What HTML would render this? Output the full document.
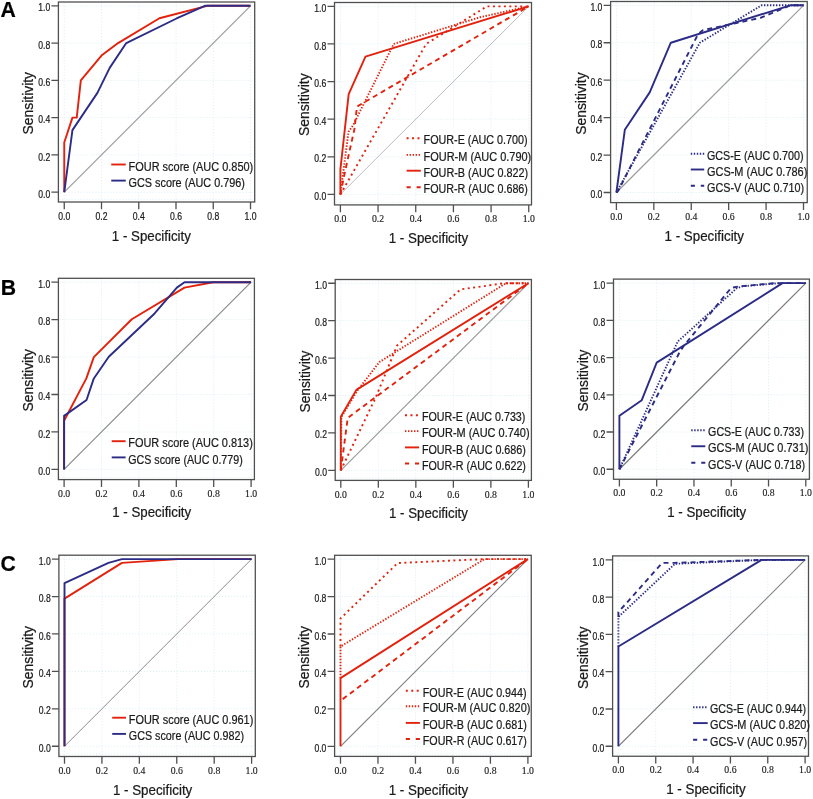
<!DOCTYPE html>
<html><head><meta charset="utf-8"><title>ROC curves</title>
<style>html,body{margin:0;padding:0;background:#fff;}svg{display:block;}text{font-family:"Liberation Sans",sans-serif;fill:#1a1a1a;stroke:#1a1a1a;stroke-width:0.22px;}svg{will-change:transform;}.sf{font-family:"Liberation Serif",serif;stroke-width:0.15px;}</style></head><body>
<svg width="813" height="799" viewBox="0 0 813 799">
<rect x="0" y="0" width="813" height="799" fill="#fff"/>
<g id="pA1">
<path d="M64.25 3V201M59.4 192.2H253.7M101.5 3V201M59.4 154.92H253.7M138.75 3V201M59.4 117.64H253.7M176 3V201M59.4 80.36H253.7M213.25 3V201M59.4 43.08H253.7M250.5 3V201M59.4 5.8H253.7M59.4 199.6H253.7" stroke="#e0f0f4" stroke-width="1" stroke-dasharray="1.2 1.8" fill="none"/>
<path d="M64.25 192.2L250.5 5.8" stroke="#9c9c9c" stroke-width="1.2" fill="none"/>
<path d="M64.25 192.2L64.25 142.43L72.44 117.64L76.73 117.64L80.83 80.36L101.5 55.57L118.08 43.08L159.42 18.29L207.1 5.8L250.5 5.8" stroke="#e2220c" stroke-width="1.9" fill="none" stroke-linejoin="round"/>
<path d="M64.25 192.2L72.44 130.13L97.4 92.85L109.69 67.87L126.27 43.08L176.56 18.48L204.87 5.8L250.5 5.8" stroke="#2c2c86" stroke-width="1.9" fill="none" stroke-linejoin="round"/>
<rect x="58.4" y="2" width="196.3" height="200" stroke="#505050" stroke-width="1.3" fill="none"/>
<path d="M64.25 202V209.3M58.4 192.2H51.4M101.5 202V209.3M58.4 154.92H51.4M138.75 202V209.3M58.4 117.64H51.4M176 202V209.3M58.4 80.36H51.4M213.25 202V209.3M58.4 43.08H51.4M250.5 202V209.3M58.4 5.8H51.4" stroke="#505050" stroke-width="1.3" fill="none"/>
<text x="64.25" y="220.3" font-size="10" text-anchor="middle" textLength="12" lengthAdjust="spacingAndGlyphs">0.0</text>
<text x="50.2" y="197.8" font-size="10.3" text-anchor="end" textLength="12" lengthAdjust="spacingAndGlyphs">0.0</text>
<text x="101.5" y="220.3" font-size="10" text-anchor="middle" textLength="12" lengthAdjust="spacingAndGlyphs">0.2</text>
<text x="50.2" y="160.52" font-size="10.3" text-anchor="end" textLength="12" lengthAdjust="spacingAndGlyphs">0.2</text>
<text x="138.75" y="220.3" font-size="10" text-anchor="middle" textLength="12" lengthAdjust="spacingAndGlyphs">0.4</text>
<text x="50.2" y="123.24" font-size="10.3" text-anchor="end" textLength="12" lengthAdjust="spacingAndGlyphs">0.4</text>
<text x="176" y="220.3" font-size="10" text-anchor="middle" textLength="12" lengthAdjust="spacingAndGlyphs">0.6</text>
<text x="50.2" y="85.96" font-size="10.3" text-anchor="end" textLength="12" lengthAdjust="spacingAndGlyphs">0.6</text>
<text x="213.25" y="220.3" font-size="10" text-anchor="middle" textLength="12" lengthAdjust="spacingAndGlyphs">0.8</text>
<text x="50.2" y="48.68" font-size="10.3" text-anchor="end" textLength="12" lengthAdjust="spacingAndGlyphs">0.8</text>
<text x="250.5" y="220.3" font-size="10" text-anchor="middle" textLength="12" lengthAdjust="spacingAndGlyphs">1.0</text>
<text x="50.2" y="11.4" font-size="10.3" text-anchor="end" textLength="12" lengthAdjust="spacingAndGlyphs">1.0</text>
<text x="151.35" y="241" font-size="13.8" text-anchor="middle" textLength="79.1" lengthAdjust="spacingAndGlyphs">1 - Specificity</text>
<text transform="translate(33.3 103.2) rotate(-90)" x="0" y="0" font-size="13.8" text-anchor="middle" textLength="62.4" lengthAdjust="spacingAndGlyphs">Sensitivity</text>
<path d="M111.25 164.5H125.75" stroke="#e2220c" stroke-width="1.9" fill="none"/>
<text x="128.6" y="170.65" font-size="12" textLength="124.6" lengthAdjust="spacingAndGlyphs">FOUR score (AUC 0.850)</text>
<path d="M111.25 180.6H125.75" stroke="#2c2c86" stroke-width="1.9" fill="none"/>
<text x="128.6" y="186.75" font-size="12" textLength="116.3" lengthAdjust="spacingAndGlyphs">GCS score (AUC 0.796)</text>
</g>
<g id="pA2">
<path d="M340.4 3.5V203.9M335.5 194.4H530.5M378.07 3.5V203.9M335.5 156.79H530.5M415.74 3.5V203.9M335.5 119.18H530.5M453.41 3.5V203.9M335.5 81.57H530.5M491.08 3.5V203.9M335.5 43.96H530.5M528.75 3.5V203.9M335.5 6.35H530.5M335.5 202.5H530.5" stroke="#e0f0f4" stroke-width="1" stroke-dasharray="1.2 1.8" fill="none"/>
<path d="M340.4 194.4L528.75 6.35" stroke="#bcbcc4" stroke-width="1.0" fill="none"/>
<path d="M340.4 194.4L426.1 43.96L486.94 6.35L528.75 6.35" stroke="#e2220c" stroke-width="1.9" fill="none" stroke-linejoin="round" stroke-dasharray="2 3.45"/>
<path d="M340.4 194.4L348.5 131.78L353.02 125.39L393.7 43.96L479.97 17.26L528.75 6.35" stroke="#e2220c" stroke-width="1.9" fill="none" stroke-linejoin="round" stroke-dasharray="1.4 1.6"/>
<path d="M340.4 194.4L340.4 169.39L348.69 94.17L365.45 56.56L528.75 6.35" stroke="#e2220c" stroke-width="1.9" fill="none" stroke-linejoin="round"/>
<path d="M340.4 194.4L344.17 175.59L354.53 128.58L356.97 106.58L528.75 6.35" stroke="#e2220c" stroke-width="1.9" fill="none" stroke-linejoin="round" stroke-dasharray="5 4"/>
<rect x="334.5" y="2.5" width="197" height="202.4" stroke="#505050" stroke-width="1.3" fill="none"/>
<path d="M340.4 204.9V212.2M334.5 194.4H327.5M378.07 204.9V212.2M334.5 156.79H327.5M415.74 204.9V212.2M334.5 119.18H327.5M453.41 204.9V212.2M334.5 81.57H327.5M491.08 204.9V212.2M334.5 43.96H327.5M528.75 204.9V212.2M334.5 6.35H327.5" stroke="#505050" stroke-width="1.3" fill="none"/>
<text class="sf" x="340.4" y="222" font-size="11" text-anchor="middle" textLength="12.2" lengthAdjust="spacingAndGlyphs">0.0</text>
<text x="326.3" y="200" font-size="10.3" text-anchor="end" textLength="12" lengthAdjust="spacingAndGlyphs">0.0</text>
<text class="sf" x="378.07" y="222" font-size="11" text-anchor="middle" textLength="12.2" lengthAdjust="spacingAndGlyphs">0.2</text>
<text x="326.3" y="162.39" font-size="10.3" text-anchor="end" textLength="12" lengthAdjust="spacingAndGlyphs">0.2</text>
<text class="sf" x="415.74" y="222" font-size="11" text-anchor="middle" textLength="12.2" lengthAdjust="spacingAndGlyphs">0.4</text>
<text x="326.3" y="124.78" font-size="10.3" text-anchor="end" textLength="12" lengthAdjust="spacingAndGlyphs">0.4</text>
<text class="sf" x="453.41" y="222" font-size="11" text-anchor="middle" textLength="12.2" lengthAdjust="spacingAndGlyphs">0.6</text>
<text x="326.3" y="87.17" font-size="10.3" text-anchor="end" textLength="12" lengthAdjust="spacingAndGlyphs">0.6</text>
<text class="sf" x="491.08" y="222" font-size="11" text-anchor="middle" textLength="12.2" lengthAdjust="spacingAndGlyphs">0.8</text>
<text x="326.3" y="49.56" font-size="10.3" text-anchor="end" textLength="12" lengthAdjust="spacingAndGlyphs">0.8</text>
<text class="sf" x="528.75" y="222" font-size="11" text-anchor="middle" textLength="12.2" lengthAdjust="spacingAndGlyphs">1.0</text>
<text x="326.3" y="11.95" font-size="10.3" text-anchor="end" textLength="12" lengthAdjust="spacingAndGlyphs">1.0</text>
<text x="428.43" y="242.7" font-size="13.8" text-anchor="middle" textLength="79.55" lengthAdjust="spacingAndGlyphs">1 - Specificity</text>
<text transform="translate(309.3 104.65) rotate(-90)" x="0" y="0" font-size="13.8" text-anchor="middle" textLength="62.5" lengthAdjust="spacingAndGlyphs">Sensitivity</text>
<path d="M406.6 138.3H420.8" stroke="#e2220c" stroke-width="1.9" fill="none" stroke-dasharray="2 3.45"/>
<text x="423.6" y="144.45" font-size="12" textLength="104" lengthAdjust="spacingAndGlyphs">FOUR-E (AUC 0.700)</text>
<path d="M406.6 154.9H420.8" stroke="#e2220c" stroke-width="1.9" fill="none" stroke-dasharray="1.4 1.6"/>
<text x="423.6" y="161.05" font-size="12" textLength="107.6" lengthAdjust="spacingAndGlyphs">FOUR-M (AUC 0.790)</text>
<path d="M406.6 170.7H420.8" stroke="#e2220c" stroke-width="1.9" fill="none"/>
<text x="423.6" y="176.85" font-size="12" textLength="104.6" lengthAdjust="spacingAndGlyphs">FOUR-B (AUC 0.822)</text>
<path d="M406.6 187.3H420.8" stroke="#e2220c" stroke-width="1.9" fill="none" stroke-dasharray="4.1 5.9"/>
<text x="423.6" y="193.45" font-size="12" textLength="104.3" lengthAdjust="spacingAndGlyphs">FOUR-R (AUC 0.686)</text>
</g>
<g id="pA3">
<path d="M616.4 2.5V201.6M611.6 192.5H806.25M653.82 2.5V201.6M611.6 155.06H806.25M691.24 2.5V201.6M611.6 117.62H806.25M728.66 2.5V201.6M611.6 80.18H806.25M766.08 2.5V201.6M611.6 42.74H806.25M803.5 2.5V201.6M611.6 5.3H806.25M611.6 200.2H806.25" stroke="#e0f0f4" stroke-width="1" stroke-dasharray="1.2 1.8" fill="none"/>
<path d="M616.4 192.5L803.5 5.3" stroke="#9c9c9c" stroke-width="1.2" fill="none"/>
<path d="M616.4 192.5L699.85 42.74L761.59 5.3L803.5 5.3" stroke="#2c2c86" stroke-width="1.9" fill="none" stroke-linejoin="round" stroke-dasharray="1.4 1.6"/>
<path d="M616.4 192.5L624.82 129.79L649.7 92.35L670.85 42.74L790.4 5.3L803.5 5.3" stroke="#2c2c86" stroke-width="1.9" fill="none" stroke-linejoin="round"/>
<path d="M616.4 192.5L618.27 190.63L697.98 34.32L702.84 30.2L760.47 17.84L790.4 5.3L803.5 5.3" stroke="#2c2c86" stroke-width="1.9" fill="none" stroke-linejoin="round" stroke-dasharray="5 4"/>
<rect x="610.6" y="1.5" width="196.65" height="201.1" stroke="#505050" stroke-width="1.3" fill="none"/>
<path d="M616.4 202.6V209.9M610.6 192.5H603.6M653.82 202.6V209.9M610.6 155.06H603.6M691.24 202.6V209.9M610.6 117.62H603.6M728.66 202.6V209.9M610.6 80.18H603.6M766.08 202.6V209.9M610.6 42.74H603.6M803.5 202.6V209.9M610.6 5.3H603.6" stroke="#505050" stroke-width="1.3" fill="none"/>
<text class="sf" x="616.4" y="219.7" font-size="11" text-anchor="middle" textLength="12.2" lengthAdjust="spacingAndGlyphs">0.0</text>
<text x="602.4" y="198.1" font-size="10.3" text-anchor="end" textLength="12" lengthAdjust="spacingAndGlyphs">0.0</text>
<text class="sf" x="653.82" y="219.7" font-size="11" text-anchor="middle" textLength="12.2" lengthAdjust="spacingAndGlyphs">0.2</text>
<text x="602.4" y="160.66" font-size="10.3" text-anchor="end" textLength="12" lengthAdjust="spacingAndGlyphs">0.2</text>
<text class="sf" x="691.24" y="219.7" font-size="11" text-anchor="middle" textLength="12.2" lengthAdjust="spacingAndGlyphs">0.4</text>
<text x="602.4" y="123.22" font-size="10.3" text-anchor="end" textLength="12" lengthAdjust="spacingAndGlyphs">0.4</text>
<text class="sf" x="728.66" y="219.7" font-size="11" text-anchor="middle" textLength="12.2" lengthAdjust="spacingAndGlyphs">0.6</text>
<text x="602.4" y="85.78" font-size="10.3" text-anchor="end" textLength="12" lengthAdjust="spacingAndGlyphs">0.6</text>
<text class="sf" x="766.08" y="219.7" font-size="11" text-anchor="middle" textLength="12.2" lengthAdjust="spacingAndGlyphs">0.8</text>
<text x="602.4" y="48.34" font-size="10.3" text-anchor="end" textLength="12" lengthAdjust="spacingAndGlyphs">0.8</text>
<text class="sf" x="803.5" y="219.7" font-size="11" text-anchor="middle" textLength="12.2" lengthAdjust="spacingAndGlyphs">1.0</text>
<text x="602.4" y="10.9" font-size="10.3" text-anchor="end" textLength="12" lengthAdjust="spacingAndGlyphs">1.0</text>
<text x="704.25" y="240.5" font-size="13.8" text-anchor="middle" textLength="79.5" lengthAdjust="spacingAndGlyphs">1 - Specificity</text>
<text transform="translate(585.5 103.6) rotate(-90)" x="0" y="0" font-size="13.8" text-anchor="middle" textLength="62.4" lengthAdjust="spacingAndGlyphs">Sensitivity</text>
<path d="M690.8 153.8H704.2" stroke="#2c2c86" stroke-width="1.9" fill="none" stroke-dasharray="1.4 1.6"/>
<text x="707" y="159.95" font-size="12" textLength="96.5" lengthAdjust="spacingAndGlyphs">GCS-E (AUC 0.700)</text>
<path d="M690.8 169.5H704.2" stroke="#2c2c86" stroke-width="1.9" fill="none"/>
<text x="707" y="175.65" font-size="12" textLength="100.3" lengthAdjust="spacingAndGlyphs">GCS-M (AUC 0.786)</text>
<path d="M690.8 185.8H704.2" stroke="#2c2c86" stroke-width="1.9" fill="none" stroke-dasharray="4.1 5.9"/>
<text x="707" y="191.95" font-size="12" textLength="97.2" lengthAdjust="spacingAndGlyphs">GCS-V (AUC 0.710)</text>
</g>
<g id="pB1">
<path d="M64.1 279.3V478.6M59.4 469.4H253.4M101.5 279.3V478.6M59.4 431.96H253.4M138.9 279.3V478.6M59.4 394.52H253.4M176.3 279.3V478.6M59.4 357.08H253.4M213.7 279.3V478.6M59.4 319.64H253.4M251.1 279.3V478.6M59.4 282.2H253.4M59.4 477.2H253.4" stroke="#e0f0f4" stroke-width="1" stroke-dasharray="1.2 1.8" fill="none"/>
<path d="M64.1 469.4L251.1 282.2" stroke="#858585" stroke-width="1.1" fill="none"/>
<path d="M64.1 469.4L64.1 420.73L86.35 378.42L93.83 357.08L131.79 319.27L184.53 287.63L213.14 282.2L251.1 282.2" stroke="#e2220c" stroke-width="1.9" fill="none" stroke-linejoin="round"/>
<path d="M64.1 469.4L64.1 415.86L86.54 399.95L93.83 378.42L108.79 356.71L154.61 313.46L176.86 287.63L184.53 282.2L251.1 282.2" stroke="#2c2c86" stroke-width="1.9" fill="none" stroke-linejoin="round"/>
<rect x="58.4" y="278.3" width="196" height="201.3" stroke="#505050" stroke-width="1.3" fill="none"/>
<path d="M64.1 479.6V486.9M58.4 469.4H51.4M101.5 479.6V486.9M58.4 431.96H51.4M138.9 479.6V486.9M58.4 394.52H51.4M176.3 479.6V486.9M58.4 357.08H51.4M213.7 479.6V486.9M58.4 319.64H51.4M251.1 479.6V486.9M58.4 282.2H51.4" stroke="#505050" stroke-width="1.3" fill="none"/>
<text class="sf" x="64.1" y="496.7" font-size="11" text-anchor="middle" textLength="12.2" lengthAdjust="spacingAndGlyphs">0.0</text>
<text x="50.2" y="475" font-size="10.3" text-anchor="end" textLength="12" lengthAdjust="spacingAndGlyphs">0.0</text>
<text class="sf" x="101.5" y="496.7" font-size="11" text-anchor="middle" textLength="12.2" lengthAdjust="spacingAndGlyphs">0.2</text>
<text x="50.2" y="437.56" font-size="10.3" text-anchor="end" textLength="12" lengthAdjust="spacingAndGlyphs">0.2</text>
<text class="sf" x="138.9" y="496.7" font-size="11" text-anchor="middle" textLength="12.2" lengthAdjust="spacingAndGlyphs">0.4</text>
<text x="50.2" y="400.12" font-size="10.3" text-anchor="end" textLength="12" lengthAdjust="spacingAndGlyphs">0.4</text>
<text class="sf" x="176.3" y="496.7" font-size="11" text-anchor="middle" textLength="12.2" lengthAdjust="spacingAndGlyphs">0.6</text>
<text x="50.2" y="362.68" font-size="10.3" text-anchor="end" textLength="12" lengthAdjust="spacingAndGlyphs">0.6</text>
<text class="sf" x="213.7" y="496.7" font-size="11" text-anchor="middle" textLength="12.2" lengthAdjust="spacingAndGlyphs">0.8</text>
<text x="50.2" y="325.24" font-size="10.3" text-anchor="end" textLength="12" lengthAdjust="spacingAndGlyphs">0.8</text>
<text class="sf" x="251.1" y="496.7" font-size="11" text-anchor="middle" textLength="12.2" lengthAdjust="spacingAndGlyphs">1.0</text>
<text x="50.2" y="287.8" font-size="10.3" text-anchor="end" textLength="12" lengthAdjust="spacingAndGlyphs">1.0</text>
<text x="151.75" y="517.2" font-size="13.8" text-anchor="middle" textLength="78.9" lengthAdjust="spacingAndGlyphs">1 - Specificity</text>
<text transform="translate(32.9 380.25) rotate(-90)" x="0" y="0" font-size="13.8" text-anchor="middle" textLength="62.5" lengthAdjust="spacingAndGlyphs">Sensitivity</text>
<path d="M111.7 441.2H125.6" stroke="#e2220c" stroke-width="1.9" fill="none"/>
<text x="128.3" y="447.35" font-size="12" textLength="124.5" lengthAdjust="spacingAndGlyphs">FOUR score (AUC 0.813)</text>
<path d="M111.7 457.4H125.6" stroke="#2c2c86" stroke-width="1.9" fill="none"/>
<text x="128.3" y="463.55" font-size="12" textLength="114.4" lengthAdjust="spacingAndGlyphs">GCS score (AUC 0.779)</text>
</g>
<g id="pB2">
<path d="M340.8 280.5V479.4M336.2 470.3H530.4M378.32 280.5V479.4M336.2 432.89H530.4M415.84 280.5V479.4M336.2 395.48H530.4M453.36 280.5V479.4M336.2 358.07H530.4M490.88 280.5V479.4M336.2 320.66H530.4M528.4 280.5V479.4M336.2 283.25H530.4M336.2 478H530.4" stroke="#e0f0f4" stroke-width="1" stroke-dasharray="1.2 1.8" fill="none"/>
<path d="M340.8 470.3L528.4 283.25" stroke="#9c9c9c" stroke-width="1.2" fill="none"/>
<path d="M340.8 470.3L375.69 397.54L397.08 345.54L460.49 289.42L504.01 283.25L528.4 283.25" stroke="#e2220c" stroke-width="1.9" fill="none" stroke-linejoin="round" stroke-dasharray="2 3.45"/>
<path d="M340.8 470.3L341.36 416.99L357.31 390.62L379.45 362L505.89 283.25L528.4 283.25" stroke="#e2220c" stroke-width="1.9" fill="none" stroke-linejoin="round" stroke-dasharray="1.4 1.6"/>
<path d="M340.8 470.3L340.8 416.8L356.37 389.87L528.4 283.25" stroke="#e2220c" stroke-width="1.9" fill="none" stroke-linejoin="round"/>
<path d="M340.8 470.3L347.74 417.93L528.4 283.25" stroke="#e2220c" stroke-width="1.9" fill="none" stroke-linejoin="round" stroke-dasharray="5 4"/>
<rect x="335.2" y="279.5" width="196.2" height="200.9" stroke="#505050" stroke-width="1.3" fill="none"/>
<path d="M340.8 480.4V487.7M335.2 470.3H328.2M378.32 480.4V487.7M335.2 432.89H328.2M415.84 480.4V487.7M335.2 395.48H328.2M453.36 480.4V487.7M335.2 358.07H328.2M490.88 480.4V487.7M335.2 320.66H328.2M528.4 480.4V487.7M335.2 283.25H328.2" stroke="#505050" stroke-width="1.3" fill="none"/>
<text class="sf" x="340.8" y="497.5" font-size="11" text-anchor="middle" textLength="12.2" lengthAdjust="spacingAndGlyphs">0.0</text>
<text x="327" y="475.9" font-size="10.3" text-anchor="end" textLength="12" lengthAdjust="spacingAndGlyphs">0.0</text>
<text class="sf" x="378.32" y="497.5" font-size="11" text-anchor="middle" textLength="12.2" lengthAdjust="spacingAndGlyphs">0.2</text>
<text x="327" y="438.49" font-size="10.3" text-anchor="end" textLength="12" lengthAdjust="spacingAndGlyphs">0.2</text>
<text class="sf" x="415.84" y="497.5" font-size="11" text-anchor="middle" textLength="12.2" lengthAdjust="spacingAndGlyphs">0.4</text>
<text x="327" y="401.08" font-size="10.3" text-anchor="end" textLength="12" lengthAdjust="spacingAndGlyphs">0.4</text>
<text class="sf" x="453.36" y="497.5" font-size="11" text-anchor="middle" textLength="12.2" lengthAdjust="spacingAndGlyphs">0.6</text>
<text x="327" y="363.67" font-size="10.3" text-anchor="end" textLength="12" lengthAdjust="spacingAndGlyphs">0.6</text>
<text class="sf" x="490.88" y="497.5" font-size="11" text-anchor="middle" textLength="12.2" lengthAdjust="spacingAndGlyphs">0.8</text>
<text x="327" y="326.26" font-size="10.3" text-anchor="end" textLength="12" lengthAdjust="spacingAndGlyphs">0.8</text>
<text class="sf" x="528.4" y="497.5" font-size="11" text-anchor="middle" textLength="12.2" lengthAdjust="spacingAndGlyphs">1.0</text>
<text x="327" y="288.85" font-size="10.3" text-anchor="end" textLength="12" lengthAdjust="spacingAndGlyphs">1.0</text>
<text x="428.45" y="517.7" font-size="13.8" text-anchor="middle" textLength="78.9" lengthAdjust="spacingAndGlyphs">1 - Specificity</text>
<text transform="translate(309.5 381.55) rotate(-90)" x="0" y="0" font-size="13.8" text-anchor="middle" textLength="61.9" lengthAdjust="spacingAndGlyphs">Sensitivity</text>
<path d="M405 415.3H419.1" stroke="#e2220c" stroke-width="1.9" fill="none" stroke-dasharray="2 3.45"/>
<text x="421.9" y="421.45" font-size="12" textLength="103.5" lengthAdjust="spacingAndGlyphs">FOUR-E (AUC 0.733)</text>
<path d="M405 431.1H419.1" stroke="#e2220c" stroke-width="1.9" fill="none" stroke-dasharray="1.4 1.6"/>
<text x="421.9" y="437.25" font-size="12" textLength="107.7" lengthAdjust="spacingAndGlyphs">FOUR-M (AUC 0.740)</text>
<path d="M405 447.4H419.1" stroke="#e2220c" stroke-width="1.9" fill="none"/>
<text x="421.9" y="453.55" font-size="12" textLength="104" lengthAdjust="spacingAndGlyphs">FOUR-B (AUC 0.686)</text>
<path d="M405 463.5H419.1" stroke="#e2220c" stroke-width="1.9" fill="none" stroke-dasharray="4.1 5.9"/>
<text x="421.9" y="469.65" font-size="12" textLength="104" lengthAdjust="spacingAndGlyphs">FOUR-R (AUC 0.622)</text>
</g>
<g id="pB3">
<path d="M619.4 280.1V478.25M614.5 469.25H808.4M656.68 280.1V478.25M614.5 432.02H808.4M693.96 280.1V478.25M614.5 394.79H808.4M731.24 280.1V478.25M614.5 357.56H808.4M768.52 280.1V478.25M614.5 320.33H808.4M805.8 280.1V478.25M614.5 283.1H808.4M614.5 476.85H808.4" stroke="#e0f0f4" stroke-width="1" stroke-dasharray="1.2 1.8" fill="none"/>
<path d="M619.4 469.25L805.8 283.1" stroke="#7a7a7a" stroke-width="1.2" fill="none"/>
<path d="M619.4 469.25L677.74 341.55L736.65 288.31L742.42 286.26L779.7 283.1L805.8 283.1" stroke="#2c2c86" stroke-width="1.9" fill="none" stroke-linejoin="round" stroke-dasharray="1.4 1.6"/>
<path d="M619.4 469.25L619.4 415.82L641.77 400.19L656.68 362.59L782.5 283.1L805.8 283.1" stroke="#2c2c86" stroke-width="1.9" fill="none" stroke-linejoin="round"/>
<path d="M619.4 469.25L679.42 352.53L683.34 346.39L731.24 287.75L740.56 286.26L775.98 283.1L805.8 283.1" stroke="#2c2c86" stroke-width="1.9" fill="none" stroke-linejoin="round" stroke-dasharray="5 4"/>
<rect x="613.5" y="279.1" width="195.9" height="200.15" stroke="#505050" stroke-width="1.3" fill="none"/>
<path d="M619.4 479.25V486.55M613.5 469.25H606.5M656.68 479.25V486.55M613.5 432.02H606.5M693.96 479.25V486.55M613.5 394.79H606.5M731.24 479.25V486.55M613.5 357.56H606.5M768.52 479.25V486.55M613.5 320.33H606.5M805.8 479.25V486.55M613.5 283.1H606.5" stroke="#505050" stroke-width="1.3" fill="none"/>
<text class="sf" x="619.4" y="496.35" font-size="11" text-anchor="middle" textLength="12.2" lengthAdjust="spacingAndGlyphs">0.0</text>
<text x="605.3" y="474.85" font-size="10.3" text-anchor="end" textLength="12" lengthAdjust="spacingAndGlyphs">0.0</text>
<text class="sf" x="656.68" y="496.35" font-size="11" text-anchor="middle" textLength="12.2" lengthAdjust="spacingAndGlyphs">0.2</text>
<text x="605.3" y="437.62" font-size="10.3" text-anchor="end" textLength="12" lengthAdjust="spacingAndGlyphs">0.2</text>
<text class="sf" x="693.96" y="496.35" font-size="11" text-anchor="middle" textLength="12.2" lengthAdjust="spacingAndGlyphs">0.4</text>
<text x="605.3" y="400.39" font-size="10.3" text-anchor="end" textLength="12" lengthAdjust="spacingAndGlyphs">0.4</text>
<text class="sf" x="731.24" y="496.35" font-size="11" text-anchor="middle" textLength="12.2" lengthAdjust="spacingAndGlyphs">0.6</text>
<text x="605.3" y="363.16" font-size="10.3" text-anchor="end" textLength="12" lengthAdjust="spacingAndGlyphs">0.6</text>
<text class="sf" x="768.52" y="496.35" font-size="11" text-anchor="middle" textLength="12.2" lengthAdjust="spacingAndGlyphs">0.8</text>
<text x="605.3" y="325.93" font-size="10.3" text-anchor="end" textLength="12" lengthAdjust="spacingAndGlyphs">0.8</text>
<text class="sf" x="805.8" y="496.35" font-size="11" text-anchor="middle" textLength="12.2" lengthAdjust="spacingAndGlyphs">1.0</text>
<text x="605.3" y="288.7" font-size="10.3" text-anchor="end" textLength="12" lengthAdjust="spacingAndGlyphs">1.0</text>
<text x="706.75" y="516.6" font-size="13.8" text-anchor="middle" textLength="78.9" lengthAdjust="spacingAndGlyphs">1 - Specificity</text>
<text transform="translate(588.3 380.5) rotate(-90)" x="0" y="0" font-size="13.8" text-anchor="middle" textLength="62" lengthAdjust="spacingAndGlyphs">Sensitivity</text>
<path d="M691.25 430.2H705.3" stroke="#2c2c86" stroke-width="1.9" fill="none" stroke-dasharray="1.4 1.6"/>
<text x="708.1" y="436.35" font-size="12" textLength="95.9" lengthAdjust="spacingAndGlyphs">GCS-E (AUC 0.733)</text>
<path d="M691.25 446.25H705.3" stroke="#2c2c86" stroke-width="1.9" fill="none"/>
<text x="708.1" y="452.4" font-size="12" textLength="100.3" lengthAdjust="spacingAndGlyphs">GCS-M (AUC 0.731)</text>
<path d="M691.25 462.7H705.3" stroke="#2c2c86" stroke-width="1.9" fill="none" stroke-dasharray="4.1 5.9"/>
<text x="708.1" y="468.85" font-size="12" textLength="97" lengthAdjust="spacingAndGlyphs">GCS-V (AUC 0.718)</text>
</g>
<g id="pC1">
<path d="M64.5 556.2V755.5M59.9 746.25H254.3M101.92 556.2V755.5M59.9 708.82H254.3M139.34 556.2V755.5M59.9 671.39H254.3M176.76 556.2V755.5M59.9 633.96H254.3M214.18 556.2V755.5M59.9 596.53H254.3M251.6 556.2V755.5M59.9 559.1H254.3M59.9 754.1H254.3" stroke="#e0f0f4" stroke-width="1" stroke-dasharray="1.2 1.8" fill="none"/>
<path d="M64.5 746.25L251.6 559.1" stroke="#8e8e8e" stroke-width="1.0" fill="none"/>
<path d="M64.5 746.25L64.5 598.59L121.94 562.84L178.07 559.1L251.6 559.1" stroke="#e2220c" stroke-width="1.9" fill="none" stroke-linejoin="round"/>
<path d="M64.5 746.25L64.5 583.06L108.47 562.84L121.94 559.1L251.6 559.1" stroke="#2c2c86" stroke-width="1.9" fill="none" stroke-linejoin="round"/>
<rect x="58.9" y="555.2" width="196.4" height="201.3" stroke="#505050" stroke-width="1.3" fill="none"/>
<path d="M64.5 756.5V763.8M58.9 746.25H51.9M101.92 756.5V763.8M58.9 708.82H51.9M139.34 756.5V763.8M58.9 671.39H51.9M176.76 756.5V763.8M58.9 633.96H51.9M214.18 756.5V763.8M58.9 596.53H51.9M251.6 756.5V763.8M58.9 559.1H51.9" stroke="#505050" stroke-width="1.3" fill="none"/>
<text class="sf" x="64.5" y="773.6" font-size="11" text-anchor="middle" textLength="12.2" lengthAdjust="spacingAndGlyphs">0.0</text>
<text x="50.7" y="751.85" font-size="10.3" text-anchor="end" textLength="12" lengthAdjust="spacingAndGlyphs">0.0</text>
<text class="sf" x="101.92" y="773.6" font-size="11" text-anchor="middle" textLength="12.2" lengthAdjust="spacingAndGlyphs">0.2</text>
<text x="50.7" y="714.42" font-size="10.3" text-anchor="end" textLength="12" lengthAdjust="spacingAndGlyphs">0.2</text>
<text class="sf" x="139.34" y="773.6" font-size="11" text-anchor="middle" textLength="12.2" lengthAdjust="spacingAndGlyphs">0.4</text>
<text x="50.7" y="676.99" font-size="10.3" text-anchor="end" textLength="12" lengthAdjust="spacingAndGlyphs">0.4</text>
<text class="sf" x="176.76" y="773.6" font-size="11" text-anchor="middle" textLength="12.2" lengthAdjust="spacingAndGlyphs">0.6</text>
<text x="50.7" y="639.56" font-size="10.3" text-anchor="end" textLength="12" lengthAdjust="spacingAndGlyphs">0.6</text>
<text class="sf" x="214.18" y="773.6" font-size="11" text-anchor="middle" textLength="12.2" lengthAdjust="spacingAndGlyphs">0.8</text>
<text x="50.7" y="602.13" font-size="10.3" text-anchor="end" textLength="12" lengthAdjust="spacingAndGlyphs">0.8</text>
<text class="sf" x="251.6" y="773.6" font-size="11" text-anchor="middle" textLength="12.2" lengthAdjust="spacingAndGlyphs">1.0</text>
<text x="50.7" y="564.7" font-size="10.3" text-anchor="end" textLength="12" lengthAdjust="spacingAndGlyphs">1.0</text>
<text x="152.6" y="794.5" font-size="13.8" text-anchor="middle" textLength="79.4" lengthAdjust="spacingAndGlyphs">1 - Specificity</text>
<text transform="translate(33.3 657.25) rotate(-90)" x="0" y="0" font-size="13.8" text-anchor="middle" textLength="62.5" lengthAdjust="spacingAndGlyphs">Sensitivity</text>
<path d="M112.2 717.7H126" stroke="#e2220c" stroke-width="1.9" fill="none"/>
<text x="128.8" y="723.85" font-size="12" textLength="124.5" lengthAdjust="spacingAndGlyphs">FOUR score (AUC 0.961)</text>
<path d="M112.2 733.9H126" stroke="#2c2c86" stroke-width="1.9" fill="none"/>
<text x="128.8" y="740.05" font-size="12" textLength="115.3" lengthAdjust="spacingAndGlyphs">GCS score (AUC 0.982)</text>
</g>
<g id="pC2">
<path d="M340.5 556.3V755.4M335.6 746.3H530.25M377.98 556.3V755.4M335.6 708.86H530.25M415.46 556.3V755.4M335.6 671.42H530.25M452.94 556.3V755.4M335.6 633.98H530.25M490.42 556.3V755.4M335.6 596.54H530.25M527.9 556.3V755.4M335.6 559.1H530.25M335.6 754H530.25" stroke="#e0f0f4" stroke-width="1" stroke-dasharray="1.2 1.8" fill="none"/>
<path d="M340.5 746.3L527.9 559.1" stroke="#808080" stroke-width="1.2" fill="none"/>
<path d="M340.5 646.52L340.5 618.44L397.66 563.03L484.42 559.1L527.9 559.1" stroke="#e2220c" stroke-width="1.9" fill="none" stroke-linejoin="round" stroke-dasharray="2 3.45"/>
<path d="M340.5 678.16L340.5 646.52L484.42 559.1L527.9 559.1" stroke="#e2220c" stroke-width="1.9" fill="none" stroke-linejoin="round" stroke-dasharray="1.4 1.6"/>
<path d="M340.5 746.3L340.5 678.16L527.9 559.1" stroke="#e2220c" stroke-width="1.9" fill="none" stroke-linejoin="round"/>
<path d="M342.75 699.13L527.9 559.1" stroke="#e2220c" stroke-width="1.9" fill="none" stroke-linejoin="round" stroke-dasharray="5 4"/>
<rect x="334.6" y="555.3" width="196.65" height="201.1" stroke="#505050" stroke-width="1.3" fill="none"/>
<path d="M340.5 756.4V763.7M334.6 746.3H327.6M377.98 756.4V763.7M334.6 708.86H327.6M415.46 756.4V763.7M334.6 671.42H327.6M452.94 756.4V763.7M334.6 633.98H327.6M490.42 756.4V763.7M334.6 596.54H327.6M527.9 756.4V763.7M334.6 559.1H327.6" stroke="#505050" stroke-width="1.3" fill="none"/>
<text class="sf" x="340.5" y="773.5" font-size="11" text-anchor="middle" textLength="12.2" lengthAdjust="spacingAndGlyphs">0.0</text>
<text x="326.4" y="751.9" font-size="10.3" text-anchor="end" textLength="12" lengthAdjust="spacingAndGlyphs">0.0</text>
<text class="sf" x="377.98" y="773.5" font-size="11" text-anchor="middle" textLength="12.2" lengthAdjust="spacingAndGlyphs">0.2</text>
<text x="326.4" y="714.46" font-size="10.3" text-anchor="end" textLength="12" lengthAdjust="spacingAndGlyphs">0.2</text>
<text class="sf" x="415.46" y="773.5" font-size="11" text-anchor="middle" textLength="12.2" lengthAdjust="spacingAndGlyphs">0.4</text>
<text x="326.4" y="677.02" font-size="10.3" text-anchor="end" textLength="12" lengthAdjust="spacingAndGlyphs">0.4</text>
<text class="sf" x="452.94" y="773.5" font-size="11" text-anchor="middle" textLength="12.2" lengthAdjust="spacingAndGlyphs">0.6</text>
<text x="326.4" y="639.58" font-size="10.3" text-anchor="end" textLength="12" lengthAdjust="spacingAndGlyphs">0.6</text>
<text class="sf" x="490.42" y="773.5" font-size="11" text-anchor="middle" textLength="12.2" lengthAdjust="spacingAndGlyphs">0.8</text>
<text x="326.4" y="602.14" font-size="10.3" text-anchor="end" textLength="12" lengthAdjust="spacingAndGlyphs">0.8</text>
<text class="sf" x="527.9" y="773.5" font-size="11" text-anchor="middle" textLength="12.2" lengthAdjust="spacingAndGlyphs">1.0</text>
<text x="326.4" y="564.7" font-size="10.3" text-anchor="end" textLength="12" lengthAdjust="spacingAndGlyphs">1.0</text>
<text x="428.45" y="794.5" font-size="13.8" text-anchor="middle" textLength="79.5" lengthAdjust="spacingAndGlyphs">1 - Specificity</text>
<text transform="translate(309.3 657.25) rotate(-90)" x="0" y="0" font-size="13.8" text-anchor="middle" textLength="62.5" lengthAdjust="spacingAndGlyphs">Sensitivity</text>
<path d="M405.8 690.8H419.9" stroke="#e2220c" stroke-width="1.9" fill="none" stroke-dasharray="2 3.45"/>
<text x="422.8" y="696.95" font-size="12" textLength="103.8" lengthAdjust="spacingAndGlyphs">FOUR-E (AUC 0.944)</text>
<path d="M405.8 706.2H419.9" stroke="#e2220c" stroke-width="1.9" fill="none" stroke-dasharray="1.4 1.6"/>
<text x="422.8" y="712.35" font-size="12" textLength="107.6" lengthAdjust="spacingAndGlyphs">FOUR-M (AUC 0.820)</text>
<path d="M405.8 722.9H419.9" stroke="#e2220c" stroke-width="1.9" fill="none"/>
<text x="422.8" y="729.05" font-size="12" textLength="104" lengthAdjust="spacingAndGlyphs">FOUR-B (AUC 0.681)</text>
<path d="M405.8 739H419.9" stroke="#e2220c" stroke-width="1.9" fill="none" stroke-dasharray="4.1 5.9"/>
<text x="422.8" y="745.15" font-size="12" textLength="104" lengthAdjust="spacingAndGlyphs">FOUR-R (AUC 0.617)</text>
</g>
<g id="pC3">
<path d="M618.4 556.9V755.25M613.6 746.25H807.5M655.74 556.9V755.25M613.6 708.98H807.5M693.08 556.9V755.25M613.6 671.71H807.5M730.42 556.9V755.25M613.6 634.44H807.5M767.76 556.9V755.25M613.6 597.17H807.5M805.1 556.9V755.25M613.6 559.9H807.5M613.6 753.85H807.5" stroke="#e0f0f4" stroke-width="1" stroke-dasharray="1.2 1.8" fill="none"/>
<path d="M618.4 746.25L805.1 559.9" stroke="#838383" stroke-width="1.1" fill="none"/>
<path d="M618.4 646.55L618.4 616.92L674.97 563.81L761.6 559.9L805.1 559.9" stroke="#2c2c86" stroke-width="1.9" fill="none" stroke-linejoin="round" stroke-dasharray="1.4 1.6"/>
<path d="M618.4 746.25L618.4 646.55L761.6 559.9L805.1 559.9" stroke="#2c2c86" stroke-width="1.9" fill="none" stroke-linejoin="round"/>
<path d="M618.4 616.92L618.4 612.08L662.27 562.88L674.41 562.88L761.6 559.9L805.1 559.9" stroke="#2c2c86" stroke-width="1.9" fill="none" stroke-linejoin="round" stroke-dasharray="5 4"/>
<rect x="612.6" y="555.9" width="195.9" height="200.35" stroke="#505050" stroke-width="1.3" fill="none"/>
<path d="M618.4 756.25V763.55M612.6 746.25H605.6M655.74 756.25V763.55M612.6 708.98H605.6M693.08 756.25V763.55M612.6 671.71H605.6M730.42 756.25V763.55M612.6 634.44H605.6M767.76 756.25V763.55M612.6 597.17H605.6M805.1 756.25V763.55M612.6 559.9H605.6" stroke="#505050" stroke-width="1.3" fill="none"/>
<text class="sf" x="618.4" y="773.35" font-size="11" text-anchor="middle" textLength="12.2" lengthAdjust="spacingAndGlyphs">0.0</text>
<text x="604.4" y="751.85" font-size="10.3" text-anchor="end" textLength="12" lengthAdjust="spacingAndGlyphs">0.0</text>
<text class="sf" x="655.74" y="773.35" font-size="11" text-anchor="middle" textLength="12.2" lengthAdjust="spacingAndGlyphs">0.2</text>
<text x="604.4" y="714.58" font-size="10.3" text-anchor="end" textLength="12" lengthAdjust="spacingAndGlyphs">0.2</text>
<text class="sf" x="693.08" y="773.35" font-size="11" text-anchor="middle" textLength="12.2" lengthAdjust="spacingAndGlyphs">0.4</text>
<text x="604.4" y="677.31" font-size="10.3" text-anchor="end" textLength="12" lengthAdjust="spacingAndGlyphs">0.4</text>
<text class="sf" x="730.42" y="773.35" font-size="11" text-anchor="middle" textLength="12.2" lengthAdjust="spacingAndGlyphs">0.6</text>
<text x="604.4" y="640.04" font-size="10.3" text-anchor="end" textLength="12" lengthAdjust="spacingAndGlyphs">0.6</text>
<text class="sf" x="767.76" y="773.35" font-size="11" text-anchor="middle" textLength="12.2" lengthAdjust="spacingAndGlyphs">0.8</text>
<text x="604.4" y="602.77" font-size="10.3" text-anchor="end" textLength="12" lengthAdjust="spacingAndGlyphs">0.8</text>
<text class="sf" x="805.1" y="773.35" font-size="11" text-anchor="middle" textLength="12.2" lengthAdjust="spacingAndGlyphs">1.0</text>
<text x="604.4" y="565.5" font-size="10.3" text-anchor="end" textLength="12" lengthAdjust="spacingAndGlyphs">1.0</text>
<text x="705.95" y="794" font-size="13.8" text-anchor="middle" textLength="79.5" lengthAdjust="spacingAndGlyphs">1 - Specificity</text>
<text transform="translate(587.7 657.75) rotate(-90)" x="0" y="0" font-size="13.8" text-anchor="middle" textLength="62.5" lengthAdjust="spacingAndGlyphs">Sensitivity</text>
<path d="M693.1 707.2H707.7" stroke="#2c2c86" stroke-width="1.9" fill="none" stroke-dasharray="1.4 1.6"/>
<text x="710" y="713.35" font-size="12" textLength="96.1" lengthAdjust="spacingAndGlyphs">GCS-E (AUC 0.944)</text>
<path d="M693.1 723.1H707.7" stroke="#2c2c86" stroke-width="1.9" fill="none"/>
<text x="710" y="729.25" font-size="12" textLength="100" lengthAdjust="spacingAndGlyphs">GCS-M (AUC 0.820)</text>
<path d="M693.1 739.7H707.7" stroke="#2c2c86" stroke-width="1.9" fill="none" stroke-dasharray="4.1 5.9"/>
<text x="710" y="745.85" font-size="12" textLength="97" lengthAdjust="spacingAndGlyphs">GCS-V (AUC 0.957)</text>
</g>
<text x="0.5" y="16.75" font-size="21.2" font-weight="bold" style="fill:#000">A</text>
<text x="0.8" y="295.1" font-size="21.2" font-weight="bold" style="fill:#000">B</text>
<text x="0.4" y="570.9" font-size="21.2" font-weight="bold" style="fill:#000">C</text>
</svg>
</body></html>
